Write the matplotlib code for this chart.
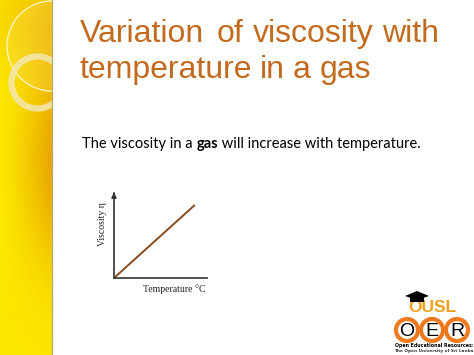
import numpy as np
import matplotlib
matplotlib.use("Agg")
import matplotlib.pyplot as plt
from matplotlib.patches import Circle, Polygon, Rectangle

# ---- data ----
temperature = [0, 87]
viscosity = [0, 86]
title_line1 = ["Variation", "of", "viscosity", "with"]
title_line2 = ["temperature", "in", "a", "gas"]
body_parts = ["The viscosity in a ", "gas", " will increase with temperature."]
x_label = "Temperature \u00b0C"
y_label = "Viscosity \u03b7"

W, H = 474, 355
fig = plt.figure(figsize=(W / 100, H / 100), dpi=100)
fig.patch.set_facecolor("white")

# ---- background axes in pixel coords ----
bg = fig.add_axes([0, 0, 1, 1])
bg.axis("off")

ny, nx = 240, 60
yy = np.linspace(0, 1, ny)[:, None]
xx = np.linspace(0, 1, nx)[None, :]
orange = np.clip(0.10 + 0.85 * xx ** 1.3 * np.exp(-((yy - 0.45) / 0.30) ** 2), 0, 1)
top = np.exp(-((yy - 0.05) / 0.15) ** 2) * 0.45
orange = np.clip(orange + top * (0.4 + 0.6 * xx), 0, 1)
c_yel = np.array([1.0, 0.94, 0.0])
c_org = np.array([0.91, 0.63, 0.0])
img = c_yel[None, None, :] * (1 - orange[..., None]) + c_org[None, None, :] * orange[..., None]
bg.imshow(img, extent=[0, 52, H, 0], aspect="auto", zorder=0)

clip = Rectangle((0, 0), 52, H, transform=bg.transData, visible=False)
bg.add_patch(clip)
c1 = Circle((52, 46), 45, fill=False, ec="#fff6c8", lw=1.0, alpha=0.95, zorder=1)
c1h = Circle((52, 46), 44, fill=True, fc="#ffffff", ec="none", alpha=0.10, zorder=1)
c2 = Circle((37.5, 82.5), 26, fill=False, ec="#f2e7b0", lw=4.5, alpha=0.85, zorder=1)
for p in (c1h, c1, c2):
    bg.add_patch(p)
    p.set_clip_path(clip)
bg.plot([52.5, 52.5], [0, H], color="#b9b070", lw=1.0, zorder=2)

bg.set_xlim(0, W)
bg.set_ylim(H, 0)

# ---- title ----
title_col = "#c26a1e"
for words, xs, base in [(title_line1, [80, 217, 253, 382], 42),
                        (title_line2, [80, 260, 293, 320], 78)]:
    for w, x in zip(words, xs):
        bg.text(x, base, w, fontsize=23, color=title_col, family="Liberation Sans",
                ha="left", va="baseline")

# ---- body text ----
fig.canvas.draw()
r = fig.canvas.get_renderer()
fs = 11.0
fam = "Lato"
def body_width(size):
    tot = 0
    for i, part in enumerate(body_parts):
        t = fig.text(0, 0, part, fontsize=size, family=fam,
                     weight="bold" if i == 1 else "normal")
        tot += t.get_window_extent(r).width
        t.remove()
    return tot
fs = fs * 336.0 / body_width(fs)
xcur = 82
for i, part in enumerate(body_parts):
    t = bg.text(xcur, 148, part, fontsize=fs, family=fam, color="black",
                weight="bold" if i == 1 else "normal", ha="left", va="baseline")
    xcur += t.get_window_extent(r).width

# ---- chart ----
x0, y0 = 114, 278
x1, y1 = 207, 193
ax = fig.add_axes([x0 / W, 1 - y0 / H, (x1 - x0) / W, (y0 - y1) / H])
ax.set_xlim(0, 100)
ax.set_ylim(0, 100)
ax.patch.set_alpha(0)
for s in ["top", "right"]:
    ax.spines[s].set_visible(False)
for s in ["left", "bottom"]:
    ax.spines[s].set_color("#333333")
    ax.spines[s].set_linewidth(1.2)
ax.set_xticks([])
ax.set_yticks([])
ax.plot(temperature, viscosity, color="#8a4a1c", lw=1.4, solid_capstyle="butt")
ax.annotate("", xy=(0, 104), xytext=(0, 95), xycoords="data",
            arrowprops=dict(arrowstyle="-|>", color="#333333", lw=1.2,
                            mutation_scale=7), annotation_clip=False)
bg.text(174, 289, x_label, fontsize=7, family="Liberation Serif",
        ha="center", va="center", color="#222222")
bg.text(103, 224, y_label, fontsize=7, family="Liberation Serif",
        ha="center", va="center", rotation=90, color="#222222")

# ---- logo ----
bg.text(432, 307, "OUSL", fontsize=12.5, weight="bold", color="#f0a020",
        family="Liberation Sans", ha="center", va="center", zorder=3)
bg.add_patch(Polygon([[405, 296], [417, 291], [429, 296], [417, 300]], closed=True,
                     fc="black", ec="none", zorder=4))
bg.add_patch(Polygon([[410, 297], [424, 297], [424, 302], [410, 302]], closed=True,
                     fc="black", ec="none", zorder=4))
for cx, letter in [(407, "O"), (432, "E"), (457, "R")]:
    bg.add_patch(Circle((cx, 330), 11, fill=False, ec="#ee7a1e", lw=3, zorder=3))
    bg.text(cx, 331, letter, fontsize=14, color="black", family="Liberation Sans",
            ha="center", va="center", zorder=4)
bg.text(434, 345, "Open Educational Resources:", fontsize=3.4, weight="bold",
        color="black", ha="center", va="center")
bg.text(434, 351, "The Open University of Sri Lanka", fontsize=3.1, weight="bold",
        color="#333333", ha="center", va="center")
bg.set_xlim(0, W)
bg.set_ylim(H, 0)

fig.savefig("out.png", dpi=100)
